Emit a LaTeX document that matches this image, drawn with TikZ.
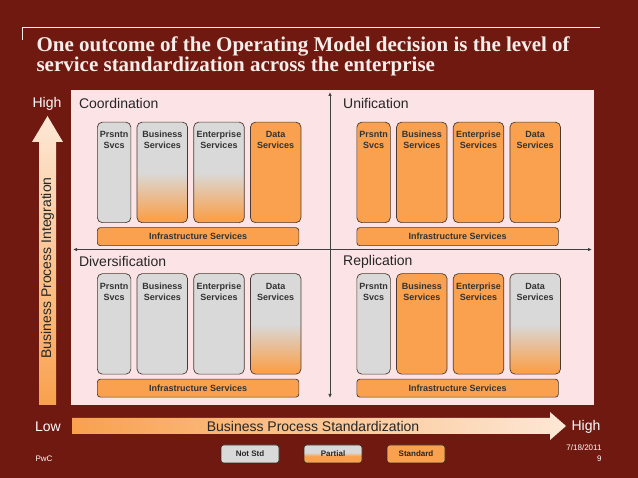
\documentclass[tikz,border=0pt]{standalone}
\usepackage{fontspec}
\setmainfont{Liberation Sans}
\newfontfamily\titlefont{Liberation Serif}
\usetikzlibrary{arrows.meta,
positioning}
\definecolor{slidered}{HTML}{701911}
\definecolor{panelpink}{HTML}{FBE3E6}
\definecolor{svcorange}{HTML}{F9A14E}
\definecolor{svcgray}{HTML}{D9D9D9}
\definecolor{svcline}{HTML}{4A3A30}
\definecolor{arrpeach}{HTML}{FDE8D6}
\definecolor{titlewhite}{HTML}{F7EEEA}
\pgfdeclareverticalshading{partshade}{100bp}{color(0bp)=(svcorange); color(27bp)=(svcorange); color(50bp)=(svcgray); color(100bp)=(svcgray)}
\pgfdeclareverticalshading{legendshade}{100bp}{color(0bp)=(svcorange); color(44bp)=(svcorange); color(54bp)=(svcgray); color(100bp)=(svcgray)}
\newcommand*{\boxfont}{\fontsize{9}{11}\selectfont\bfseries}

\begin{document}
\begin{tikzpicture} [x=1pt, y=-1pt,
    >={Latex[length=4pt, width=3.5pt]},
    svc/.style={draw=svcline, line width=.7pt, rounded corners=5pt,
        inner sep=0pt, minimum width=50.5pt, minimum height=100.5pt},
    prs/.style={svc, minimum width=33.5pt},
    notstd/.style={fill=svcgray},
    partstd/.style={shade, shading=partshade},
    fullstd/.style={fill=svcorange},
    svctext/.style={anchor=north, align=center, yshift=-6pt,
        font=\boxfont, text=black!80},
    infra/.style={draw=svcline, line width=.7pt, rounded corners=3pt,
        fill=svcorange, anchor=north west, inner sep=0pt,
        minimum width=201.5pt, minimum height=18pt,
        font=\boxfont, text=black!80},
    quad/.style={anchor=west, font=\fontsize{14}{16}\selectfont, text=black!85},
    axis text/.style={font=\fontsize{14}{16}\selectfont, text=black!85},
    edge text/.style={font=\fontsize{14}{16}\selectfont, text=white},
    legend/.style={draw=svcline!70!black, line width=.8pt, rounded corners=2.5pt,
        minimum width=58pt, minimum height=18pt, inner sep=0pt,
        font=\fontsize{8}{10}\selectfont\bfseries, text=black!85},
    every node/.style={text=black}
  ]

  \useasboundingbox (0,0) rectangle (638,478);
  \fill [slidered] (0,0) rectangle (638,478);

  % title
  \draw [titlewhite, line width=.8pt] (22,40) -- (22,27) -- (600,27);
  \node [anchor=west, align=left, text=titlewhite,
    font=\titlefont\fontsize{21}{20.5}\selectfont\bfseries
  ] (title) at (33,56.5) {One outcome of the Operating Model decision is the level of\\
  service standardization across the enterprise};

  % panel
  \node [fill=panelpink, anchor=north west, inner sep=0pt,
    minimum width=523pt, minimum height=315pt] (panel) at (71,90) {};

  \coordinate (vtop) at (330,92);
  \coordinate (vbot) at (330,398);
  \coordinate (hleft) at (73,249.5);
  \coordinate (hright) at (592,249.5);
  \draw [<->, black!75, line width=.8pt] (vtop) -- (vbot);
  \draw [<->, black!75, line width=.8pt] (hleft) -- (hright);

  % Coordination
  \node [quad] (coord) at (75.5,103) {Coordination};
  \node [prs, notstd, anchor=north west,
    label={[svctext]north:Prsntn\\Svcs}] (cprs) at (97,121.8) {};
  \node [svc, partstd, right=5.5pt of cprs,
    label={[svctext]north:Business\\Services}] (cbus) {};
  \node [svc, partstd, right=5.5pt of cbus,
    label={[svctext]north:Enterprise\\Services}] (cent) {};
  \node [svc, fullstd, right=5.5pt of cent,
    label={[svctext]north:Data\\Services}] (cdat) {};
  \node [infra] (cinf) at (97,227.3) {Infrastructure Services};

  % Unification
  \node [quad] (unif) at (339.7,103) {Unification};
  \node [prs, fullstd, anchor=north west,
    label={[svctext]north:Prsntn\\Svcs}] (uprs) at (356.5,121.8) {};
  \node [svc, fullstd, right=5.5pt of uprs,
    label={[svctext]north:Business\\Services}] (ubus) {};
  \node [svc, fullstd, right=5.5pt of ubus,
    label={[svctext]north:Enterprise\\Services}] (uent) {};
  \node [svc, fullstd, right=5.5pt of uent,
    label={[svctext]north:Data\\Services}] (udat) {};
  \node [infra] (uinf) at (356.5,227.3) {Infrastructure Services};

  % Diversification
  \node [quad] (divers) at (75.5,261.5) {Diversification};
  \node [prs, notstd, anchor=north west,
    label={[svctext]north:Prsntn\\Svcs}] (dprs) at (97,273.3) {};
  \node [svc, notstd, right=5.5pt of dprs,
    label={[svctext]north:Business\\Services}] (dbus) {};
  \node [svc, notstd, right=5.5pt of dbus,
    label={[svctext]north:Enterprise\\Services}] (dent) {};
  \node [svc, partstd, right=5.5pt of dent,
    label={[svctext]north:Data\\Services}] (ddat) {};
  \node [infra] (dinf) at (97,378.8) {Infrastructure Services};

  % Replication
  \node [quad] (repl) at (339.7,261.5) {Replication};
  \node [prs, notstd, anchor=north west,
    label={[svctext]north:Prsntn\\Svcs}] (rprs) at (356.5,273.3) {};
  \node [svc, fullstd, right=5.5pt of rprs,
    label={[svctext]north:Business\\Services}] (rbus) {};
  \node [svc, fullstd, right=5.5pt of rbus,
    label={[svctext]north:Enterprise\\Services}] (rent) {};
  \node [svc, partstd, right=5.5pt of rent,
    label={[svctext]north:Data\\Services}] (rdat) {};
  \node [infra] (rinf) at (356.5,378.8) {Infrastructure Services};

  % axes
  \shade [bottom color=svcorange, top color=arrpeach]
    (39,405) -- (39,142) -- (32,142) -- (47.5,116) -- (63,142)
    -- (56,142) -- (56,405) -- cycle;
  \node [axis text, rotate=90] (bpi) at (47.5,268) {Business Process Integration};
  \node [edge text] (yhigh) at (47,104) {High};

  \shade [left color=svcorange, right color=arrpeach]
    (72,418) -- (550,418) -- (550,412) -- (566,426) -- (550,440)
    -- (550,434) -- (72,434) -- cycle;
  \node [axis text] (bps) at (313,426.5) {Business Process Standardization};
  \node [edge text] (xlow) at (48,427) {Low};
  \node [edge text] (xhigh) at (586,427) {High};

  % legend
  \node [legend, fill=svcgray] (lnot) at (250,454) {Not Std};
  \node [legend, shade, shading=legendshade] (lpart) at (333,454) {Partial};
  \node [legend, fill=svcorange] (lstd) at (416,454) {Standard};

  \node [anchor=west, text=white, font=\fontsize{8}{10}\selectfont] (pwc) at (32,459) {PwC};
  \node [anchor=east, align=right, text=white, font=\fontsize{8}{11.5}\selectfont]
    (date) at (605,453) {7/18/2011\\9};

\end{tikzpicture}
\end{document}
